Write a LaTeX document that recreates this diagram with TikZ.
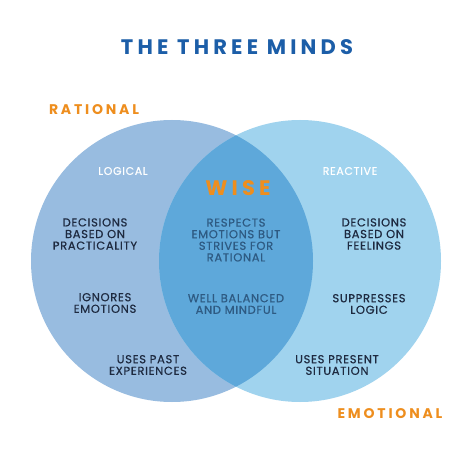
\documentclass[tikz,border=0pt]{standalone}
\usepackage{fontspec}
\setmainfont{Poppins}
\newfontfamily\headfont[LetterSpace=20]{Poppins}
\newfontfamily\bodyfont[LetterSpace=6,FakeBold=0.6]{Poppins}
\usetikzlibrary{positioning}

\definecolor{titleblue}{HTML}{1C5EA8}
\definecolor{mindorange}{HTML}{EE8E1E}
\definecolor{rationalblue}{HTML}{98BCE0}
\definecolor{emotionalblue}{HTML}{A0D3EE}
\definecolor{wiseblue}{HTML}{5EA8DA}
\definecolor{inknavy}{HTML}{1E2A40}
\definecolor{wiseink}{HTML}{2E5A82}

\begin{document}
\begin{tikzpicture}[x=1pt,y=-1pt]

\tikzset{heading/.style = {font=\headfont\bfseries\fontsize{21}{24}\selectfont, text=titleblue}}
\tikzset{mindname/.style = {font=\headfont\bfseries\fontsize{14}{16}\selectfont, text=mindorange}}
\tikzset{mindtag/.style = {font=\bodyfont\fontsize{11}{12}\selectfont, text=white}}
\tikzset{trait/.style = {align=center, font=\bodyfont\fontsize{11.5}{11.6}\selectfont, text=inknavy, inner sep=0pt}}
\tikzset{wisetrait/.style = {trait, text=wiseink}}

\useasboundingbox[fill=white] (0,0) rectangle (474,468);

% circles
\fill[rationalblue] (172,261) circle (141);
\fill[emotionalblue] (300,261) circle (141);
\begin{scope}
  \clip (172,261) circle (141);
  \fill[wiseblue] (300,261) circle (141);
\end{scope}

% headings
\node[heading] (title) at (237,47) {THE THREE MINDS};
\node[mindname] (rational) at (94,110) {RATIONAL};
\node[mindname] (emotional) at (390,414) {EMOTIONAL};
\node[mindtag] (logical) at (123,171) {LOGICAL};
\node[mindtag] (reactive) at (350,171) {REACTIVE};
\node[mindname, font=\headfont\bfseries\fontsize{21}{24}\selectfont] (wise) at (238,188) {WISE};

% rational side
\node[trait] (practical) at (95,234) {DECISIONS\\BASED ON\\PRACTICALITY};
\node[trait] (ignores) at (105,303) {IGNORES\\EMOTIONS};
\node[trait] (past) at (148,365) {USES PAST\\EXPERIENCES};

% wise middle
\node[wisetrait] (respects) at (236,240) {RESPECTS\\EMOTIONS BUT\\STRIVES FOR\\RATIONAL};
\node[wisetrait] (balanced) at (236,304) {WELL BALANCED\\AND MINDFUL};

% emotional side
\node[trait] (feelings) at (374,234) {DECISIONS\\BASED ON\\FEELINGS};
\node[trait] (suppresses) at (369,304) {SUPPRESSES\\LOGIC};
\node[trait] (present) at (337,365) {USES PRESENT\\SITUATION};

\end{tikzpicture}
\end{document}
